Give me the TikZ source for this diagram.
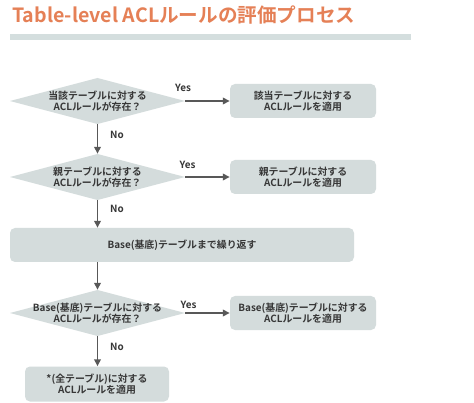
\documentclass[tikz,border=0pt]{standalone}
\usepackage{fontspec}
\setmainfont{Noto Sans CJK JP}[BoldFont={Noto Sans CJK JP Bold}]
\usepackage{xcolor}
\usetikzlibrary{arrows.meta}

\begin{document}
\begin{tikzpicture}[x=1pt,y=1pt,
  box/.style={fill=boxColor,rounded corners=5pt,text=textColor,align=center,
    font=\fontsize{9.9}{11.5}\selectfont\bfseries,inner sep=0pt},
  decision/.style={text=textColor,align=center,inner sep=0pt,
    font=\fontsize{9.9}{11.5}\selectfont\bfseries,minimum width=175,minimum height=46,
    path picture={\fill[boxColor] (path picture bounding box.west) -- (path picture bounding box.north)
      -- (path picture bounding box.east) -- (path picture bounding box.south) -- cycle;}},
  flow/.style={draw=arrowColor,line width=1.7pt,-{Triangle[length=7pt,width=6.5pt]}},
  lbl/.style={text=textColor,font=\fontsize{9.9}{11.5}\selectfont\bfseries,inner sep=0pt}]
\definecolor{titleColor}{RGB}{229,128,86}
\definecolor{barColor}{RGB}{212,222,222}
\definecolor{boxColor}{RGB}{212,220,220}
\definecolor{textColor}{RGB}{55,55,55}
\definecolor{arrowColor}{RGB}{88,88,88}
\path[use as bounding box,fill=white] (0,0) rectangle (474,402);

\node[text=titleColor,anchor=base west,inner sep=0pt,font=\fontsize{19.6}{22}\selectfont\bfseries] (title) at (12,379) {Table-level ACLルールの評価プロセス};
\path[fill=barColor] (10,362) rectangle (411,368);

\node[decision] (q1) at (97.5,301) {当該テーブルに対する\\ACLルールが存在？};
\node[box,minimum width=146,minimum height=34] (a1) at (303,301) {該当テーブルに対する\\ACLルールを適用};

\node[decision] (q2) at (97.5,225) {親テーブルに対する\\ACLルールが存在？};
\node[box,minimum width=146,minimum height=34] (a2) at (303,225) {親テーブルに対する\\ACLルールを適用};

\node[box,minimum width=344,minimum height=34] (loop) at (182,157) {Base(基底)テーブルまで繰り返す};

\node[decision] (q3) at (97.5,89) {Base(基底)テーブルに対する\\ACLルールが存在？};
\node[box,minimum width=146,minimum height=34] (a3) at (303,89) {Base(基底)テーブルに対する\\ACLルールを適用};

\node[box,minimum width=144,minimum height=35] (a4) at (97,18) {*(全テーブル)に対する\\ACLルールを適用};

\draw[flow] (q1.east) -- (a1.west);
\draw[flow] (q2.east) -- (a2.west);
\draw[flow] (q3.east) -- (a3.west);
\draw[flow] (q1.south) -- (q2.north);
\draw[flow] (q2.south) -- (loop.north -| q2.south);
\draw[flow] (loop.south -| q3.north) -- (q3.north);
\draw[flow] (q3.south) -- (a4.north -| q3.south);

\node[lbl] (y1) at (183,314.5) {Yes};
\node[lbl] (y2) at (187.5,237) {Yes};
\node[lbl] (y3) at (188.5,97.5) {Yes};
\node[lbl] (n1) at (117,267.5) {No};
\node[lbl] (n2) at (117,193) {No};
\node[lbl] (n3) at (117,55.5) {No};
\end{tikzpicture}
\end{document}
